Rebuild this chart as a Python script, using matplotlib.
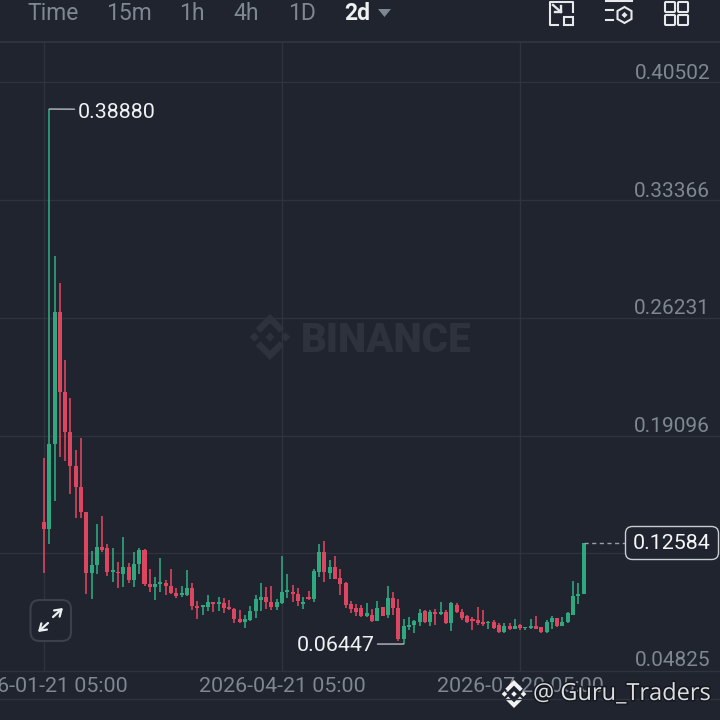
import matplotlib
matplotlib.use('Agg')
import matplotlib.pyplot as plt
import matplotlib.patheffects as pe
from matplotlib.patches import FancyBboxPatch, Polygon, Rectangle

# Candle values (one candle = 2 days)
opens = [.1385, .1343, .1858, .2658, .2173, .1931, .1725, .1598, .1446, .1076, .1125, .1234, .1228, .1082, .1082,
         .1070, .1113, .1034, .1131, .1216, .1010, .0991, .1010, .1016, .0998, .0955, .0943, .0943, .0985, .0876,
         .0870, .0870, .0901, .0889, .0895, .0870, .0858, .0798, .0779, .0792, .0846, .0913, .0931, .0901, .0870,
         .0895, .0961, .0961, .0949, .0889, .0931, .0919, .1082, .1204, .1076, .1113, .1046, .1016, .0889, .0864,
         .0864, .0816, .0822, .0786, .0870, .0822, .0925, .0864, .0676, .0749, .0761, .0779, .0846, .0779, .0840,
         .0828, .0840, .0773, .0883, .0840, .0816, .0798, .0792, .0779, .0773, .0779, .0761, .0719, .0755, .0737,
         .0761, .0743, .0743, .0755, .0749, .0719, .0779, .0804, .0755, .0779, .0822, .0937, .0949]
highs = [.1773, .3888, .2997, .2834, .2367, .2137, .1822, .1894, .1446, .1210, .1373, .1422, .1252, .1228, .1143,
         .1294, .1137, .1204, .1228, .1222, .1101, .1052, .1167, .1034, .1101, .0985, .0998, .1095, .1016, .0907,
         .0883, .0943, .0901, .0931, .0925, .0913, .0864, .0852, .0822, .0876, .0943, .1016, .0991, .0998, .0919,
         .1180, .1070, .1004, .0985, .0931, .0967, .1101, .1252, .1270, .1155, .1180, .1101, .1022, .0907, .0889,
         .0883, .0895, .0858, .0907, .0870, .0998, .0961, .0919, .0798, .0810, .0792, .0858, .0852, .0852, .0858,
         .0901, .0852, .0901, .0895, .0858, .0822, .0810, .0870, .0852, .0786, .0792, .0773, .0773, .0773, .0798,
         .0767, .0749, .0798, .0816, .0749, .0792, .0816, .0804, .0810, .0840, .1028, .1016, .1258]
lows = [.1076, .1252, .1513, .1779, .1755, .1555, .1410, .1410, .0949, .0919, .1070, .1204, .1058, .1022, .0985,
        .0991, .1016, .0991, .1070, .0998, .0961, .0913, .0961, .0943, .0949, .0925, .0931, .0937, .0852, .0798,
        .0822, .0846, .0840, .0846, .0834, .0852, .0773, .0773, .0743, .0786, .0804, .0846, .0858, .0852, .0852,
        .0889, .0925, .0901, .0876, .0858, .0913, .0901, .1052, .1022, .1040, .1040, .0943, .0864, .0834, .0816,
        .0810, .0810, .0779, .0786, .0816, .0804, .0822, .0664, .0646, .0731, .0713, .0755, .0773, .0755, .0761,
        .0822, .0767, .0725, .0834, .0792, .0773, .0731, .0761, .0755, .0737, .0737, .0713, .0713, .0731, .0737,
        .0731, .0731, .0737, .0737, .0713, .0713, .0737, .0749, .0755, .0773, .0822, .0889, .0949]
closes = [.1343, .1858, .2658, .2173, .1931, .1725, .1598, .1446, .1076, .1125, .1234, .1216, .1082, .1095, .1076,
          .1113, .1034, .1131, .1216, .1010, .0991, .1010, .1022, .0998, .0955, .0937, .0955, .0985, .0876, .0864,
          .0883, .0901, .0889, .0901, .0864, .0858, .0798, .0779, .0798, .0846, .0919, .0931, .0901, .0870, .0901,
          .0961, .0973, .0949, .0907, .0901, .0919, .1089, .1204, .1082, .1113, .1040, .1010, .0883, .0858, .0840,
          .0816, .0834, .0786, .0864, .0816, .0925, .0864, .0676, .0755, .0761, .0786, .0834, .0779, .0840, .0828,
          .0840, .0773, .0895, .0840, .0804, .0779, .0786, .0773, .0767, .0779, .0743, .0719, .0755, .0737, .0755,
          .0743, .0749, .0755, .0737, .0719, .0779, .0804, .0755, .0779, .0834, .0937, .0949, .1258]

price_ticks = [.40502, .33366, .26231, .19096, .11960, .04825]
price_labels = ['0.40502', '0.33366', '0.26231', '0.19096', '', '0.04825']
date_ticks = [0, 45, 90]
date_labels = ['2026-01-21 05:00', '2026-04-21 05:00', '2026-07-20 05:00']
intervals = ['Time', '15m', '1h', '4h', '1D', '2d']
interval_x = [53, 129, 192, 246, 302, 357]

bg = '#1f242f'
grid_col = '#2e333e'
muted = '#7f8792'
green = '#2fa87f'
red = '#dc4660'

plt.rcParams['font.family'] = ['Roboto', 'DejaVu Sans']

fig = plt.figure(figsize=(7.2, 7.2), dpi=100, facecolor=bg)
ax = fig.add_axes([0, 0, 1, 1], facecolor=bg)

# Pixel scale of the chart: 5.29 px per candle, 0.000606 per px
ax.set_xlim(-44 / 5.29, (720 - 44) / 5.29)
ax.set_ylim(.04825 - 49 * .000606, .04825 + 671 * .000606)
ax.axis('off')

top_price = .04825 + (671 - 42) * .000606
for p in price_ticks:
    ax.axhline(p, color=grid_col, lw=1, zorder=1)
for d in date_ticks:
    ax.vlines(d, .04825, top_price, color=grid_col, lw=1, zorder=1)

def logo(a, cx, cy, s, col, **kw):
    # binance mark in overlay pixels
    d = s * 0.2
    for px, py in [(0, 0), (-.68, 0), (.68, 0)]:
        a.add_patch(Polygon([(cx + px * s, cy + py * s - d), (cx + px * s + d, cy + py * s),
                             (cx + px * s, cy + py * s + d), (cx + px * s - d, cy + py * s)], fc=col, ec='none', **kw))
    for sgn in (-1, 1):
        a.add_patch(Polygon([(cx, cy + sgn * s), (cx + .62 * s, cy + sgn * .38 * s), (cx + .42 * s, cy + sgn * .18 * s),
                             (cx, cy + sgn * .6 * s), (cx - .42 * s, cy + sgn * .18 * s),
                             (cx - .62 * s, cy + sgn * .38 * s)], fc=col, ec='none', **kw))

# Candles
for i in range(len(opens)):
    col = green if closes[i] >= opens[i] else red
    ax.vlines(i, lows[i], highs[i], color=col, lw=1.3, alpha=.9, zorder=3)
    bottom = min(opens[i], closes[i])
    height = max(abs(closes[i] - opens[i]), .0007)
    ax.bar(i, height, bottom=bottom, width=.76, color=col, lw=0, zorder=3)

# Price axis labels
for p, lab in zip(price_ticks, price_labels):
    ax.annotate(lab, xy=(1, p), xycoords=('axes fraction', 'data'), xytext=(-10, 9 if p > .05 else 11),
                textcoords='offset pixels', ha='right', va='center', color=muted, fontsize=15, zorder=5)
for d, lab in zip(date_ticks, date_labels):
    ax.annotate(lab, xy=(d, .04825), xytext=(0, -16), textcoords='offset pixels', ha='center', va='center',
                color=muted, fontsize=15.4, annotation_clip=False, zorder=2)

# High, low and last price callouts
imax = highs.index(max(highs))
imin = lows.index(min(lows))
ax.annotate('0.38880', xy=(imax, highs[imax]), xytext=(28, -3), textcoords='offset pixels', ha='left', va='center',
            color='#f0f1f3', fontsize=15.4, zorder=6,
            arrowprops=dict(arrowstyle='-', color='#b9bcc2', lw=1, shrinkA=0, shrinkB=0, relpos=(0, .65)))
ax.annotate('0.06447', xy=(imin, lows[imin]), xytext=(-29, -1), textcoords='offset pixels', ha='right', va='center',
            color='#f0f1f3', fontsize=15.4, zorder=6,
            arrowprops=dict(arrowstyle='-', color='#b9bcc2', lw=1, shrinkA=0, shrinkB=0, relpos=(1, .55)))
ax.hlines(closes[-1], len(closes) - 1, len(closes) - 1 + 41 / 5.29, color='#9a9ea6', lw=1, linestyles=(0, (3, 2.5)), zorder=4)

# Everything around the chart goes in an overlay using pixel coordinates
ov = fig.add_axes([0, 0, 1, 1], facecolor='none', zorder=10)
ov.set_xlim(0, 720)
ov.set_ylim(720, 0)
ov.axis('off')

ov.add_patch(FancyBboxPatch((625.5, 526.5), 93, 33, boxstyle='round,pad=0,rounding_size=7', fc=bg, ec='#c9ccd1', lw=1))
ov.text(672, 543.5, '0.12584', ha='center', va='center', color='#f5f6f7', fontsize=15.4)

ov.plot([0, 720], [42, 42], color=grid_col, lw=1.5)
ov.plot([0, 720], [699, 699], color=grid_col, lw=1)

for lab, x in zip(intervals, interval_x):
    sel = lab == '2d'
    ov.text(x, 14, lab, ha='center', va='center', color='#eef0f2' if sel else muted,
            fontsize=16.5, fontweight='bold' if sel else 'normal')
ov.add_patch(Polygon([(378, 9), (391, 9), (384.5, 17)], fc=muted, ec='none'))

# toolbar icons
icon = '#e6e8ea'
ov.plot([558, 549.5, 549.5, 572.5, 572.5], [24.5, 24.5, 1.5, 1.5, 12], color=icon, lw=1.5)
ov.add_patch(Rectangle((563.5, 17), 9, 8, fc='none', ec=icon, lw=1.5))
ov.plot([553, 561], [5, 12], color=icon, lw=1.7)
ov.plot([561, 561, 555], [6, 12, 12], color=icon, lw=1.7)
ov.plot([606, 632], [1, 1], color=icon, lw=1.5)
ov.plot([606, 613], [10, 10], color=icon, lw=1.5)
ov.plot([606, 613], [20, 20], color=icon, lw=1.5)
ov.add_patch(Polygon([(624.5, 7), (631.5, 11), (631.5, 19), (624.5, 23), (617.5, 19), (617.5, 11)], fc='none', ec=icon, lw=1.5))
ov.add_patch(Polygon([(624.5, 12), (627.5, 15), (624.5, 18), (621.5, 15)], fc=icon, ec='none'))
for x0 in (665, 678):
    for y0 in (2, 15):
        ov.add_patch(FancyBboxPatch((x0, y0), 10, 10, boxstyle='round,pad=0,rounding_size=1', fc='none', ec=icon, lw=1.5))

# watermark
logo(ov, 270, 337, 23, '#2d323d', zorder=2)
ov.text(386, 341, 'BINANCE', ha='center', va='center', color='#2d323d', fontsize=29, fontweight='black', zorder=2)

# expand button
ov.add_patch(FancyBboxPatch((30.5, 600), 40.5, 41, boxstyle='round,pad=0,rounding_size=9', fc=bg, ec='#3b404b', lw=1.5))
for a, b in [((53, 617), (63, 608)), ((48, 623), (38, 632))]:
    ov.annotate('', xy=b, xytext=a, arrowprops=dict(arrowstyle='->,head_length=.45,head_width=.3', color='#eceef0',
                                                    lw=1.6, shrinkA=0, shrinkB=0))

# user stamp
shadow = [pe.withStroke(linewidth=2.2, foreground='#15181e')]
logo(ov, 514, 694, 14, '#f2f2f2')
ov.text(533, 694, '@ Guru_Traders', ha='left', va='center', color='#dcdde0', fontsize=17, family='Open Sans',
        path_effects=shadow)

fig.savefig('out.png', dpi=100, facecolor=bg)
